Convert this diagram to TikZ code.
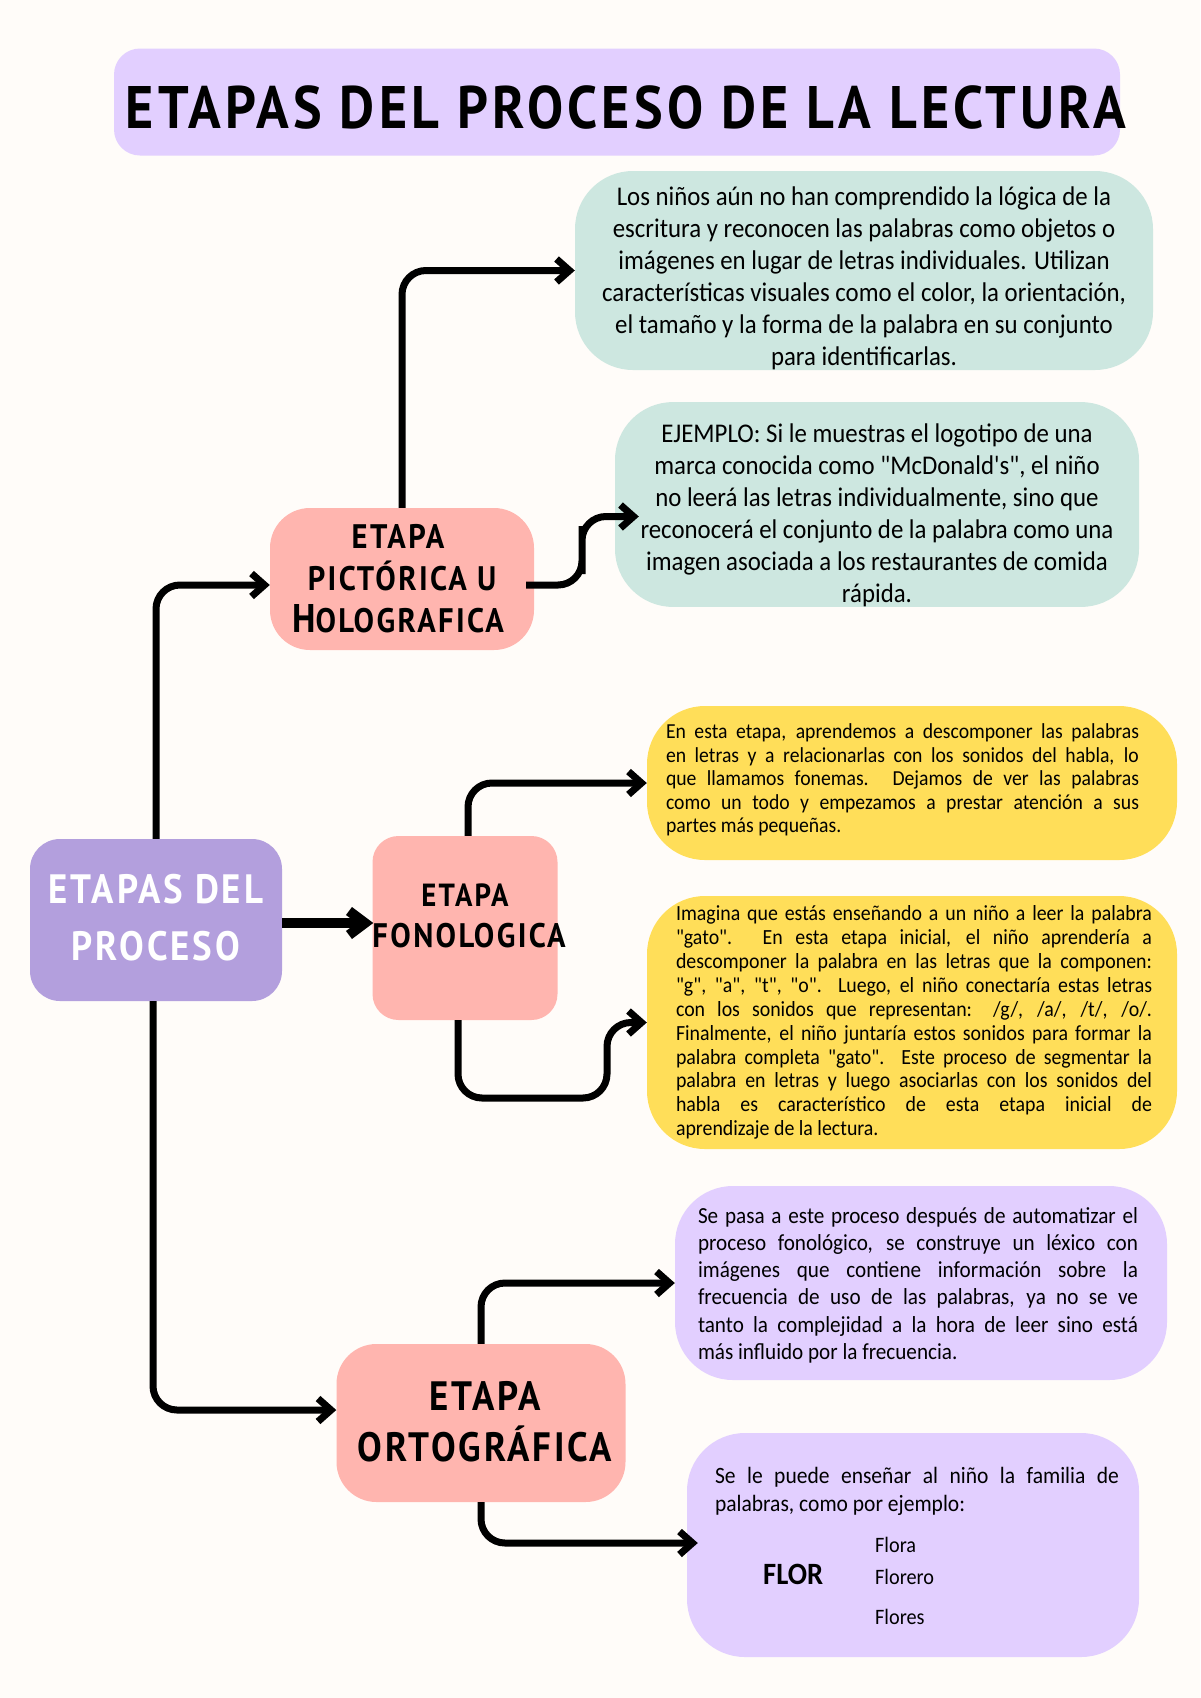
\documentclass[tikz,border=0pt]{standalone}
\usepackage{fontspec}
\usetikzlibrary{arrows.meta,positioning}
\newfontfamily\headfont[FakeStretch=0.9,LetterSpace=7]{PT Sans}
\newfontfamily\bodyfont[FakeStretch=0.92]{Carlito}
\definecolor{paper}{HTML}{FFFCF9}
\definecolor{lila}{HTML}{E2CFFF}
\definecolor{morado}{HTML}{B39FDD}
\definecolor{menta}{HTML}{CDE7E0}
\definecolor{salmon}{HTML}{FFB5AF}
\definecolor{amarillo}{HTML}{FFDE59}
\newlength{\jlw}
\newcommand{\jl}[1]{\makebox[\jlw][s]{#1}\\}
\begin{document}
\begin{tikzpicture}[x=1pt, y=-1pt,
        link/.style = {draw=black, line width=7pt, rounded corners=24pt, -{Straight Barb[length=13pt,width=23pt]}},
        stage/.style = {fill=salmon, rounded corners=40pt, align=center, inner sep=0pt, font=\headfont\bfseries},
        note/.style = {rounded corners=58pt, inner ysep=0pt, font=\bodyfont},
        word/.style = {inner sep=0pt, anchor=west, font=\bodyfont\fontsize{22pt}{26pt}\selectfont}]
        \fill[paper] (0,0) rectangle (1200,1698);
        % titulo
        \node[fill=lila, rounded corners=26pt, minimum width=1006pt, minimum height=107pt, inner sep=0pt] (titulo) at (617,102) {\hspace*{18pt}\makebox[0pt]{\raisebox{-26pt}[0pt][0pt]{\headfont\bfseries\fontsize{60pt}{62pt}\selectfont ETAPAS DEL PROCESO DE LA LECTURA}}};
        % etapas
        \node[fill=morado, rounded corners=30pt, minimum width=252pt, minimum height=162pt, align=center, inner sep=0pt, text=white, font=\headfont\bfseries\fontsize{41pt}{57pt}\selectfont] (proceso) at (156,920) {ETAPAS DEL\\PROCESO\\[-51pt]\mbox{}};
        \node[stage, minimum width=264pt, minimum height=142pt, font=\headfont\bfseries\fontsize{34pt}{42pt}\selectfont] (pictorica) at (402,579) {ETAPA\hspace*{8pt}\\PICTÓRICA U\hspace*{8pt}\\{\fontsize{40pt}{42pt}\selectfont H}OLOGRAFICA\hspace*{8pt}};
        \node[stage, rounded corners=26pt, minimum width=185pt, minimum height=184pt, font=\headfont\bfseries\fontsize{32pt}{41pt}\selectfont] (fonologica) at (465,928) {ETAPA\\\hspace*{8pt}\makebox[0pt]{\fontsize{34pt}{41pt}\selectfont FONOLOGICA}\\[-17pt]\mbox{}};
        \node[stage, minimum width=289pt, minimum height=158pt, font=\headfont\bfseries\fontsize{41pt}{51pt}\selectfont] (ortografica) at (481,1423) {\hspace*{8pt}ETAPA\\\hspace*{8pt}ORTOGRÁFICA\\[-47pt]\mbox{}};
        % notas
        \node[note, fill=menta, minimum width=578pt, minimum height=199pt, align=flush center, text width=570pt, inner xsep=4pt, font=\bodyfont\fontsize{27pt}{32pt}\selectfont] (logica) at (864,270.5) {\mbox{}\\[1.4pt]Los niños aún no han comprendido la lógica de la\\escritura y reconocen las palabras como objetos o\\imágenes en lugar de letras individuales. Utilizan\\características visuales como el color, la orientación,\\el tamaño y la forma de la palabra en su conjunto\\para identificarlas.};
        \node[note, fill=menta, minimum width=524pt, minimum height=203pt, align=flush center, text width=516pt, inner xsep=4pt, font=\bodyfont\fontsize{27pt}{32pt}\selectfont] (logotipo) at (877,504.5) {\mbox{}\\[8.5pt]EJEMPLO: Si le muestras el logotipo de una\\marca conocida como "McDonald's", el niño\\no leerá las letras individualmente, sino que\\reconocerá el conjunto de la palabra como una\\imagen asociada a los restaurantes de comida\\rápida.};
        \node[note, fill=amarillo, minimum width=530pt, minimum height=154pt, align=flush left, text width=492pt, inner xsep=19pt, font=\bodyfont\fontsize{21.4pt}{23.4pt}\selectfont] (fonemas) at (912,783) {\setlength{\jlw}{473pt}\jl{En esta etapa, aprendemos a descomponer las palabras}\jl{en letras y a relacionarlas con los sonidos del habla, lo}\jl{que llamamos fonemas. Dejamos de ver las palabras}\jl{como un todo y empezamos a prestar atención a sus}partes más pequeñas.\\[-14pt]\mbox{}};
        \node[note, fill=amarillo, minimum width=530pt, minimum height=253pt, align=flush left, text width=472pt, inner xsep=29pt, font=\bodyfont\fontsize{21.6pt}{23.9pt}\selectfont] (gato) at (912,1022.5) {\setlength{\jlw}{476pt}\jl{Imagina que estás enseñando a un niño a leer la palabra}\jl{"gato". En esta etapa inicial, el niño aprendería a}\jl{descomponer la palabra en las letras que la componen:}\jl{"g", "a", "t", "o". Luego, el niño conectaría estas letras}\jl{con los sonidos que representan: /g/, /a/, /t/, /o/.}\jl{Finalmente, el niño juntaría estos sonidos para formar la}\jl{palabra completa "gato". Este proceso de segmentar la}\jl{palabra en letras y luego asociarlas con los sonidos del}\jl{habla es característico de esta etapa inicial de}aprendizaje de la lectura.};
        \node[note, fill=lila, minimum width=492pt, minimum height=194pt, align=flush left, text width=446pt, inner xsep=23pt, font=\bodyfont\fontsize{23pt}{27.3pt}\selectfont] (lexico) at (921,1283) {\setlength{\jlw}{440pt}\mbox{}\\[-7pt]\jl{Se pasa a este proceso después de automatizar el}\jl{proceso fonológico, se construye un léxico con}\jl{imágenes que contiene información sobre la}\jl{frecuencia de uso de las palabras, ya no se ve}\jl{tanto la complejidad a la hora de leer sino está}más influido por la frecuencia.};
        \node[note, fill=lila, minimum width=452pt, minimum height=224pt, align=flush left, text width=424pt, inner xsep=14pt, font=\bodyfont\fontsize{23.4pt}{28pt}\selectfont] (familia) at (913,1545) {\setlength{\jlw}{404pt}\hspace*{14pt}\makebox[\jlw][s]{Se le puede enseñar al niño la familia de}\\\hspace*{14pt}palabras, como por ejemplo:\\[84pt]\mbox{}};
        \node[word, font=\bodyfont\bfseries\fontsize{31pt}{33pt}\selectfont] (flor) at (763,1574) {FLOR};
        \node[word] (flora) at (875,1545) {Flora};
        \node[word, below=32pt of flora.west, anchor=west] (florero) {Florero};
        \node[word, below=72pt of flora.west, anchor=west] (flores) {Flores};
        % conectores
        \coordinate (pictoricabend) at (582,550);
        \coordinate (fonologicabend) at (607,1098);
        \draw[link] (proceso.north) |- ([yshift=-6pt]pictorica.west);
        \draw[link] ([xshift=-3pt]proceso.south) |- ([yshift=13pt]ortografica.west);
        \draw[link, line width=10pt, -{Straight Barb[length=16pt,width=24pt]}] ([yshift=-3pt]proceso.east) -- ([yshift=5pt,xshift=1pt]fonologica.west);
        \draw[link] (pictorica.north) |- (logica.west);
        \draw[link] ([yshift=-6pt,xshift=-8pt]pictorica.east) -| (pictoricabend) |- ([yshift=-12pt,xshift=24pt]logotipo.west);
        \draw[link] ([xshift=3pt]fonologica.north) |- (fonemas.west);
        \draw[link] ([xshift=-7pt]fonologica.south) |- (fonologicabend) |- (gato.west);
        \draw[link] (ortografica.north) |- (lexico.west);
        \draw[link] (ortografica.south) |- ([yshift=2pt,xshift=11pt]familia.west);
\end{tikzpicture}
\end{document}
